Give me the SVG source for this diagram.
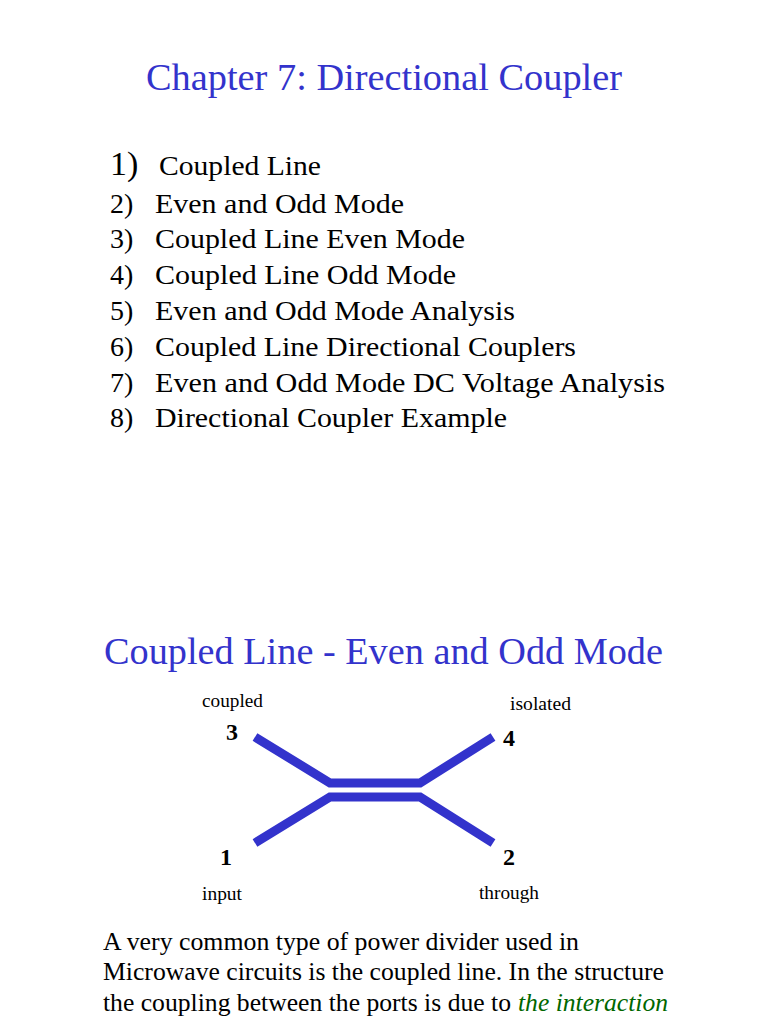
<svg xmlns="http://www.w3.org/2000/svg" width="768" height="1024" viewBox="0 0 768 1024">
<style>
.t{font-family:"Liberation Serif",serif;fill:#3333cc;font-size:38px}
.l{font-family:"Liberation Serif",serif;fill:#000;font-size:28px}
.s{font-family:"Liberation Serif",serif;fill:#000;font-size:18px}
.n{font-family:"Liberation Serif",serif;fill:#000;font-size:24px;font-weight:bold}
.p{font-family:"Liberation Serif",serif;fill:#000;font-size:25px}
.w{stroke:#3333cc;stroke-width:9;fill:none}
</style>
<rect width="768" height="1024" fill="#fff"/>
<text class="t" x="146" y="90" textLength="476" lengthAdjust="spacingAndGlyphs">Chapter 7: Directional Coupler</text>
<text class="l" x="110" y="175" style="font-size:34px">1)</text>
<text class="l" x="159" y="175" textLength="162" lengthAdjust="spacingAndGlyphs">Coupled Line</text>
<text class="l" x="110" y="213">2)</text><text class="l" x="155" y="213" textLength="249" lengthAdjust="spacingAndGlyphs">Even and Odd Mode</text>
<text class="l" x="110" y="248">3)</text><text class="l" x="155" y="248" textLength="310" lengthAdjust="spacingAndGlyphs">Coupled Line Even Mode</text>
<text class="l" x="110" y="284">4)</text><text class="l" x="155" y="284" textLength="301" lengthAdjust="spacingAndGlyphs">Coupled Line Odd Mode</text>
<text class="l" x="110" y="320">5)</text><text class="l" x="155" y="320" textLength="360" lengthAdjust="spacingAndGlyphs">Even and Odd Mode Analysis</text>
<text class="l" x="110" y="356">6)</text><text class="l" x="155" y="356" textLength="421" lengthAdjust="spacingAndGlyphs">Coupled Line Directional Couplers</text>
<text class="l" x="110" y="392">7)</text><text class="l" x="155" y="392" textLength="510" lengthAdjust="spacingAndGlyphs">Even and Odd Mode DC Voltage Analysis</text>
<text class="l" x="110" y="427">8)</text><text class="l" x="155" y="427" textLength="352" lengthAdjust="spacingAndGlyphs">Directional Coupler Example</text>
<text class="t" x="104" y="664" textLength="559" lengthAdjust="spacingAndGlyphs">Coupled Line - Even and Odd Mode</text>
<g id="coupler">
<path class="w" d="M255,737 L330,783 L420,783 L493,737"/>
<path class="w" d="M255,843 L330,797 L420,797 L493,843"/>
</g>
<g id="port3"><text class="s" x="202" y="707" textLength="61" lengthAdjust="spacingAndGlyphs">coupled</text><text class="n" x="226" y="740">3</text></g>
<g id="port4"><text class="s" x="510" y="710" textLength="61" lengthAdjust="spacingAndGlyphs">isolated</text><text class="n" x="503" y="746">4</text></g>
<g id="port1"><text class="n" x="220" y="865">1</text><text class="s" x="202" y="900" textLength="40" lengthAdjust="spacingAndGlyphs">input</text></g>
<g id="port2"><text class="n" x="503" y="865">2</text><text class="s" x="479" y="899" textLength="60" lengthAdjust="spacingAndGlyphs">through</text></g>
<text class="p" x="103" y="950" textLength="476" lengthAdjust="spacingAndGlyphs">A very common type of power divider used in</text>
<text class="p" x="103" y="980" textLength="561" lengthAdjust="spacingAndGlyphs">Microwave circuits is the coupled line. In the structure</text>
<text class="p" x="103" y="1011" textLength="408" lengthAdjust="spacingAndGlyphs">the coupling between the ports is due to</text>
<text class="p" x="518" y="1011" textLength="150" lengthAdjust="spacingAndGlyphs" font-style="italic" style="fill:#006600">the interaction</text>
</svg>
